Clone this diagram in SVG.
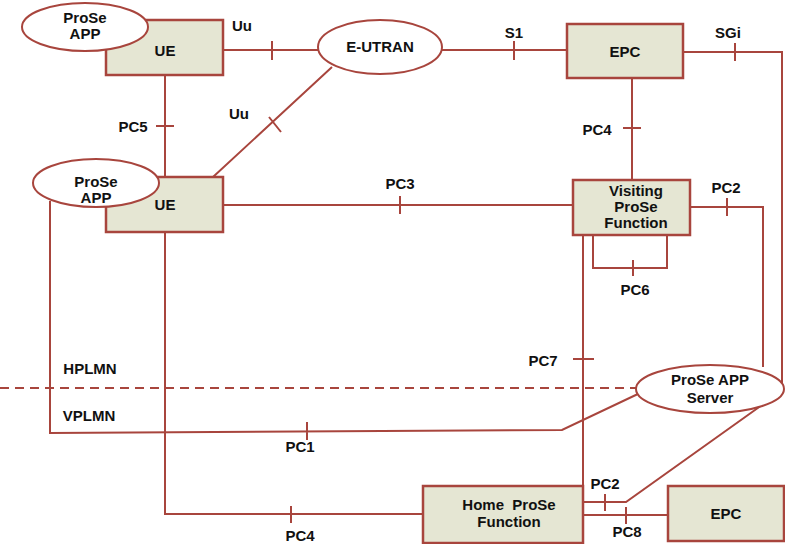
<svg xmlns="http://www.w3.org/2000/svg" width="785" height="544" viewBox="0 0 785 544">
<style>
.b{fill:#e5e6d3;stroke:#a8453d;stroke-width:2.5}
.e{fill:#fff;stroke:#a8453d;stroke-width:2}
.l{fill:none;stroke:#a8453d;stroke-width:2}
text{font-family:"Liberation Sans",Arial,sans-serif;font-weight:bold;font-size:15px;text-anchor:middle;fill:#111}
</style>
<rect width="785" height="544" fill="#fff"/>
<g id="connectors">
<path class="l" d="M223,50H318M272,41V60M442,50H567M514,41V60M683,52H782V388M735,43V61"/>
<path class="l" d="M165,75V177M156,126H174M213,177L332,67M269,117L281,132"/>
<path class="l" d="M632,78V180M623,128H641M223,205H573M400,196V214"/>
<path class="l" d="M593,235V268H667V235M633,260V276M690,207H763V367M727,198V216"/>
<path class="l" d="M583,235V487M573,359H594"/>
<path class="l" d="M50,201V433L562,430L640,393M307,422V440"/>
<path class="l" d="M165,232V514H423M291,506V523"/>
<path class="l" d="M583,502H626L762,405M605,494V511M583,515H668M626,507V524"/>
<path class="l" d="M0,388H636" stroke-dasharray="9,6"/>
</g>
<g id="ue1"><rect class="b" x="106" y="20" width="117" height="55"/><text x="165" y="56">UE</text></g>
<g id="app1"><ellipse class="e" cx="85" cy="27" rx="63" ry="24"/><text x="85" y="23">ProSe</text><text x="85" y="39">APP</text></g>
<g id="ue2"><rect class="b" x="106" y="177" width="117" height="55"/><text x="165" y="210">UE</text></g>
<g id="app2"><ellipse class="e" cx="96" cy="183" rx="63" ry="24"/><text x="96" y="187">ProSe</text><text x="96" y="203">APP</text></g>
<g id="eutran"><ellipse class="e" cx="380" cy="47" rx="62" ry="27"/><text x="380" y="52">E-UTRAN</text></g>
<g id="epc1"><rect class="b" x="567" y="24" width="116" height="54"/><text x="625" y="57">EPC</text></g>
<g id="vpf"><rect class="b" x="573" y="180" width="117" height="55"/><text x="636" y="196">Visiting</text><text x="636" y="212">ProSe</text><text x="636" y="228">Function</text></g>
<g id="server"><ellipse class="e" cx="710" cy="389" rx="74" ry="24"/><text x="710" y="385">ProSe APP</text><text x="710" y="403">Server</text></g>
<g id="hpf"><rect class="b" x="423" y="486" width="160" height="57"/><text x="509" y="510" xml:space="preserve">Home  ProSe</text><text x="509" y="527">Function</text></g>
<g id="epc2"><rect class="b" x="668" y="486" width="116" height="55"/><text x="726" y="519">EPC</text></g>
<g id="labels">
<text x="242" y="31">Uu</text><text x="239" y="119">Uu</text><text x="514" y="38">S1</text><text x="728" y="38">SGi</text>
<text x="133" y="132">PC5</text><text x="597" y="135">PC4</text><text x="400" y="189">PC3</text><text x="726" y="193">PC2</text>
<text x="635" y="295">PC6</text><text x="543" y="366">PC7</text><text x="90" y="374">HPLMN</text><text x="89" y="421">VPLMN</text>
<text x="300" y="452">PC1</text><text x="300" y="541">PC4</text><text x="605" y="489">PC2</text><text x="627" y="537">PC8</text>
</g>
</svg>
